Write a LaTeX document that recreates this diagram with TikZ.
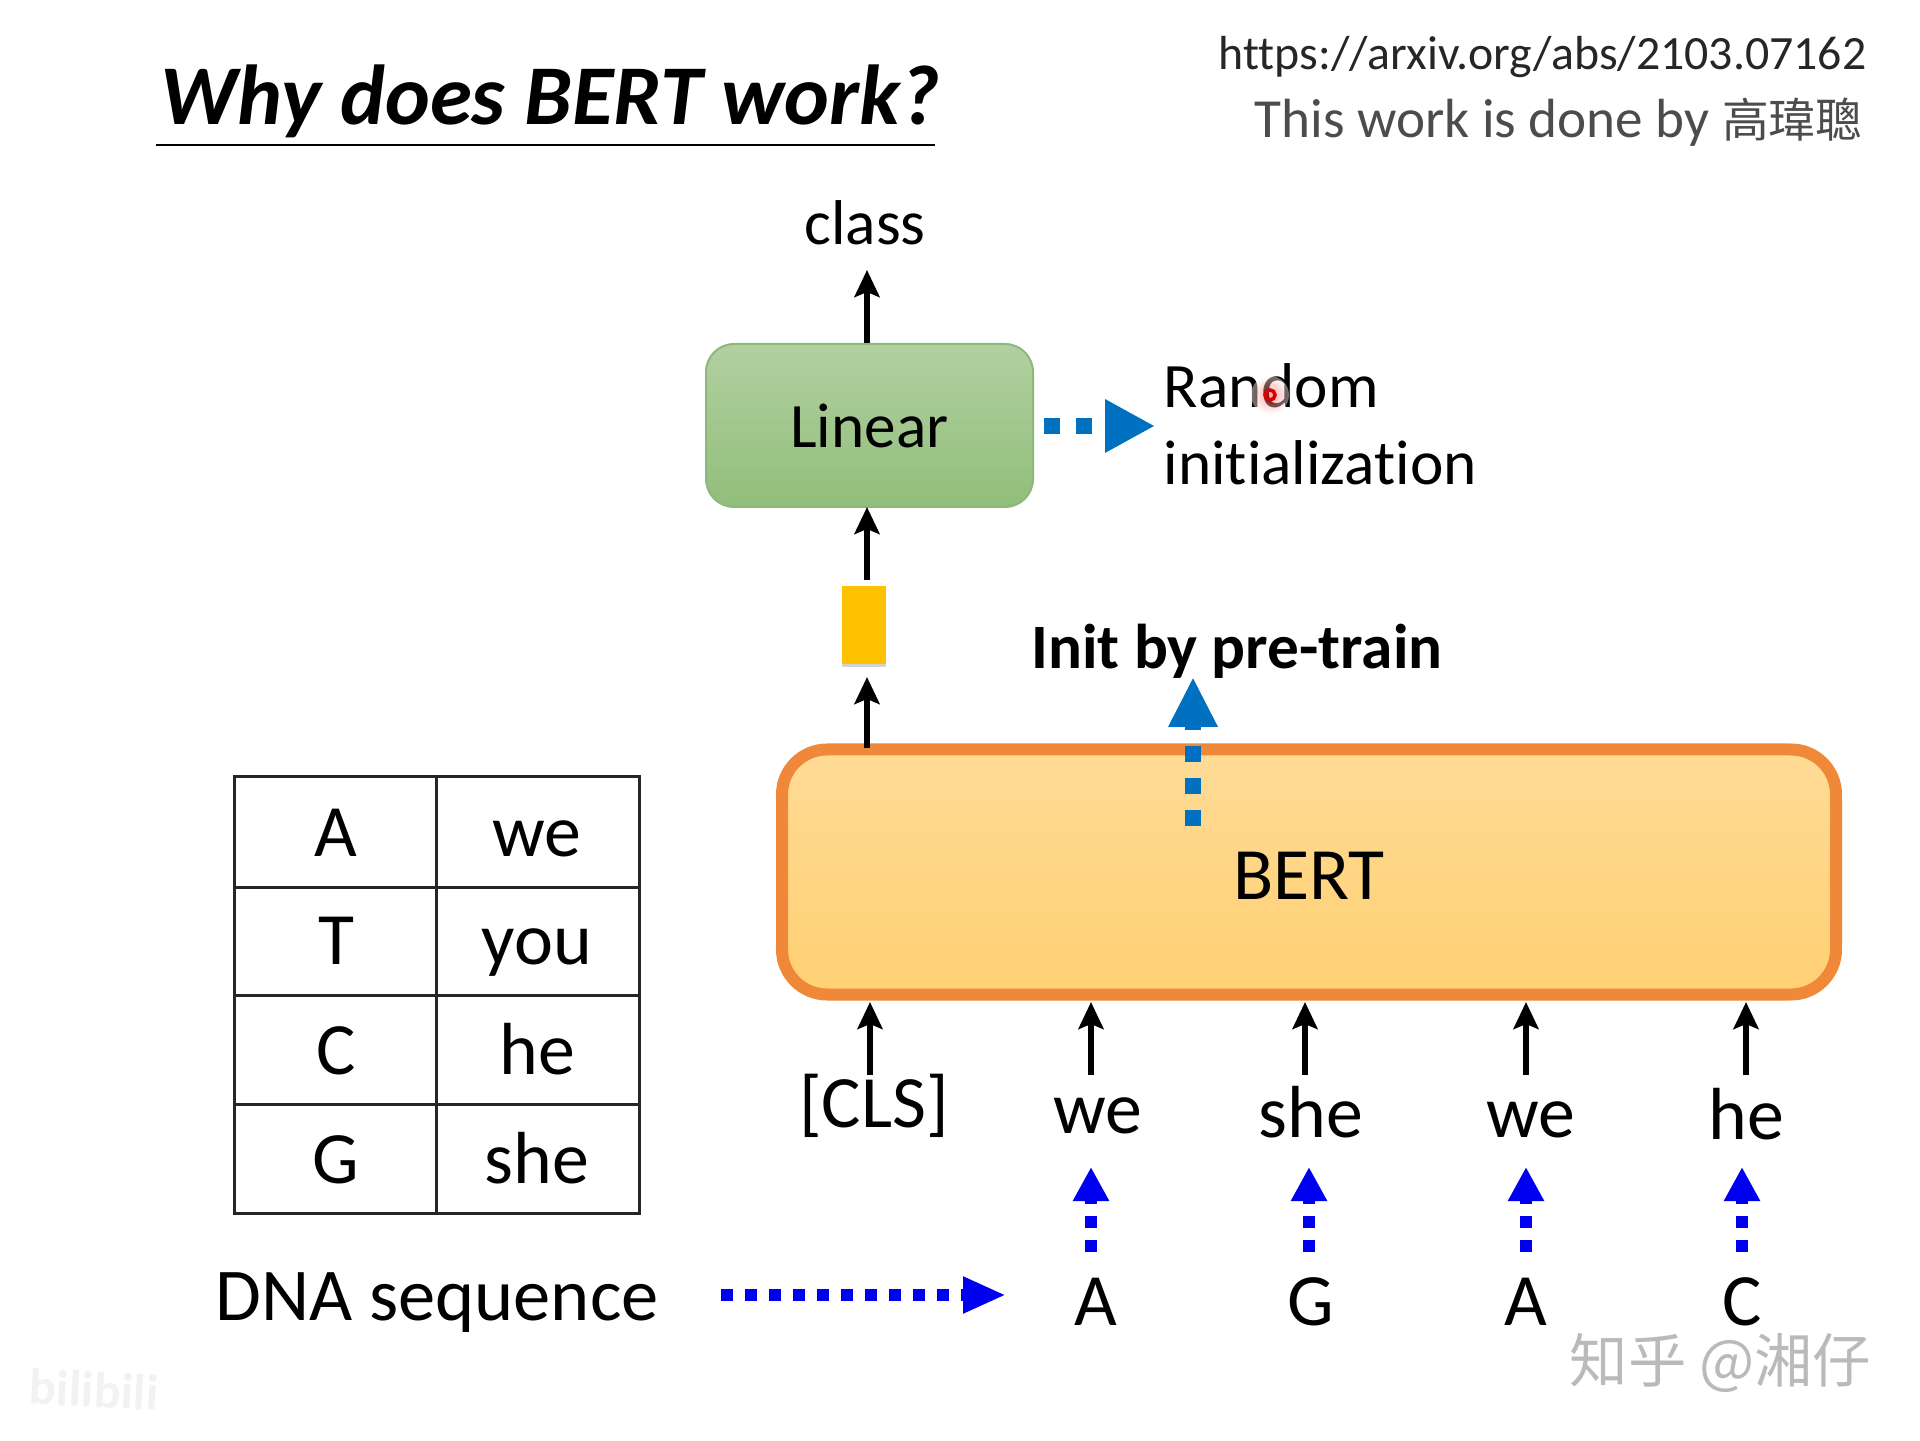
\documentclass[tikz,border=0pt]{standalone}
\usepackage{fontspec}
\setmainfont{Carlito}[Ligatures=CommonOff]
\newfontfamily\twfont{Noto Sans CJK TC}
\newfontfamily\scfont{Noto Sans CJK SC}
\usetikzlibrary{arrows.meta,shadows}
\definecolor{pptblue}{HTML}{0070C0}
\definecolor{dnablue}{HTML}{0000F0}
\definecolor{bertline}{HTML}{F0883A}
\tikzset{
	txt/.style={inner sep=0pt,anchor=base,font=\fontsize{#1}{#1}\selectfont},
	blackarrow/.style={line width=0.065cm,-{Stealth[length=0.27cm,width=0.25cm,inset=0.05cm]}},
	bluearrow/.style={line width=0.12cm,dnablue,dash pattern=on 0.12cm off 0.12cm,-{Triangle[length=0.34cm,width=0.34cm]}},
	pptarrow/.style={line width=0.16cm,pptblue,dash pattern=on 0.16cm off 0.16cm,-{Triangle[length=0.5cm,width=0.5cm]}},
}
\begin{document}
\begin{tikzpicture}[>=stealth,x=1cm,y=1cm]
	\useasboundingbox (0,0) rectangle (19.2,14.4);
	\node[txt=24.2,font=\fontsize{24.2}{25}\selectfont\bfseries\itshape,anchor=base west] (title) at (1.60,13.15) {Why does BERT work?};
	\coordinate (ul1) at (1.56,12.95); \coordinate (ul2) at (9.35,12.95);
	\draw[line width=0.025cm] (ul1)--(ul2); % gach duoi
	\node[txt=13.6,anchor=base east,black!85] (url) at (18.67,13.70) {https://arxiv.org/abs/2103.07162};
	\node[txt=15.7,anchor=base east,black!70] (who) at (18.63,13.02) {This work is done by {\twfont\fontsize{13.3}{14}\selectfont 高瑋聰}};
	% Linear
	\node[txt=18] (class) at (8.65,11.95) {class};
	\node[draw={rgb,255:red,141;green,184;blue,124},line width=0.02cm,rounded corners=0.28cm,minimum width=3.27cm,minimum height=1.63cm,top color={rgb,255:red,178;green,208;blue,161},bottom color={rgb,255:red,145;green,190;blue,122},inner sep=0pt,font=\fontsize{18}{18}\selectfont] (linear) at (8.695,10.145) {Linear};
	\node[fill={rgb,255:red,255;green,192;blue,0},minimum width=0.44cm,minimum height=0.78cm,inner sep=0pt,drop shadow={shadow xshift=0cm,shadow yshift=-0.03cm,opacity=0.35}] (cell) at (8.64,8.15) {};
	\node[draw=bertline,line width=0.12cm,rounded corners=0.45cm,minimum width=10.54cm,minimum height=2.45cm,top color={rgb,255:red,255;green,219;blue,150},bottom color={rgb,255:red,255;green,208;blue,115},inner sep=0pt,text height=0.56cm,text depth=0pt,font=\fontsize{21}{21}\selectfont] (bert) at (13.09,5.68) {BERT};
	\coordinate (a1) at (8.67,10.97); \coordinate (a2) at (8.67,11.70);
	\coordinate (b1) at (8.67,8.60); \coordinate (b2) at (8.67,9.33);
	\coordinate (c1) at (8.67,6.92); \coordinate (c2) at (8.67,7.63);
	\draw[blackarrow] (a1)--(a2);
	\draw[blackarrow] (b1)--(b2);
	\draw[blackarrow] (c1)--(c2);
	% mui ten xanh
	\coordinate (r1) at (10.44,10.14); \coordinate (r2) at (11.55,10.14);
	\draw[pptarrow] (r1)--(r2);
	\node[txt=18,anchor=base west] (random) at (11.63,10.32) {Random};
	\node[txt=18,anchor=base west] (init) at (11.63,9.55) {initialization};
	\shade[inner color=red!80,outer color=white,opacity=0.45] (12.70,10.45) circle (0.19);
	\draw[red!85!black,line width=0.035cm] (12.70,10.45) circle (0.05);
	\node[txt=18,font=\fontsize{18}{18}\selectfont\bfseries] (pretrain) at (12.37,7.71) {Init by pre-train};
	\coordinate (p1) at (11.93,6.14); \coordinate (p2) at (11.93,7.63);
	\draw[pptarrow,-{Triangle[length=0.5cm,width=0.46cm]}] (p1)--(p2);
	% tokens
	\node[txt=21] (cls) at (8.74,3.13) {[CLS]};
	\node[txt=21] (we1) at (10.98,3.07) {we};
	\node[txt=21] (she) at (13.11,3.03) {she};
	\node[txt=21] (we2) at (15.31,3.03) {we};
	\node[txt=21] (he) at (17.46,3.01) {he};
	\coordinate (t0) at (8.70,3.65); \coordinate (t0e) at (8.70,4.38);
	\coordinate (t1) at (10.91,3.65); \coordinate (t1e) at (10.91,4.38);
	\coordinate (t2) at (13.05,3.65); \coordinate (t2e) at (13.05,4.38);
	\coordinate (t3) at (15.26,3.65); \coordinate (t3e) at (15.26,4.38);
	\coordinate (t4) at (17.46,3.65); \coordinate (t4e) at (17.46,4.38);
	\draw[blackarrow] (t0)--(t0e);
	\draw[blackarrow] (t1)--(t1e);
	\draw[blackarrow] (t2)--(t2e);
	\draw[blackarrow] (t3)--(t3e);
	\draw[blackarrow] (t4)--(t4e);
	\node[txt=21] (A1) at (10.96,1.15) {A};
	\node[txt=21] (G1) at (13.11,1.15) {G};
	\node[txt=21] (A2) at (15.26,1.15) {A};
	\node[txt=21] (C1) at (17.42,1.15) {C};
	\coordinate (d1) at (10.91,1.88); \coordinate (d1e) at (10.91,2.73);
	\coordinate (d2) at (13.09,1.88); \coordinate (d2e) at (13.09,2.73);
	\coordinate (d3) at (15.26,1.88); \coordinate (d3e) at (15.26,2.73);
	\coordinate (d4) at (17.42,1.88); \coordinate (d4e) at (17.42,2.73);
	\draw[bluearrow] (d1)--(d1e);
	\draw[bluearrow] (d2)--(d2e);
	\draw[bluearrow] (d3)--(d3e);
	\draw[bluearrow] (d4)--(d4e);
	\node[txt=21.2] (dna) at (4.37,1.20) {DNA sequence};
	\coordinate (e1) at (7.21,1.45); \coordinate (e2) at (10.06,1.45);
	\draw[bluearrow,-{Triangle[length=0.43cm,width=0.34cm]}] (e1)--(e2);
	% bang
	\draw[line width=0.03cm,black!85] (2.34,2.27) rectangle (6.39,6.63);
	\draw[line width=0.03cm,black!85] (4.36,2.27)--(4.36,6.63);
	\draw[line width=0.03cm,black!85] (2.34,5.53)--(6.39,5.53);
	\draw[line width=0.03cm,black!85] (2.34,4.45)--(6.39,4.45);
	\draw[line width=0.03cm,black!85] (2.34,3.36)--(6.39,3.36);
	\node[txt=21] (ta) at (3.36,5.83) {A};
	\node[txt=21] (tw) at (5.37,5.83) {we};
	\node[txt=21] (tt) at (3.36,4.76) {T};
	\node[txt=21] (ty) at (5.37,4.76) {you};
	\node[txt=21] (tc) at (3.36,3.66) {C};
	\node[txt=21] (th) at (5.37,3.66) {he};
	\node[txt=21] (tg) at (3.36,2.57) {G};
	\node[txt=21] (ts) at (5.37,2.57) {she};
	% watermark
	\node[txt=16.6,anchor=base east,black!27] (zhihu) at (18.72,0.58) {\scfont 知乎 @湘仔};
	\node[txt=14.4,black!5,font=\fontsize{14.4}{15}\selectfont\bfseries,rotate=-3] (bili) at (0.93,0.33) {bilibili};
\end{tikzpicture}
\end{document}
